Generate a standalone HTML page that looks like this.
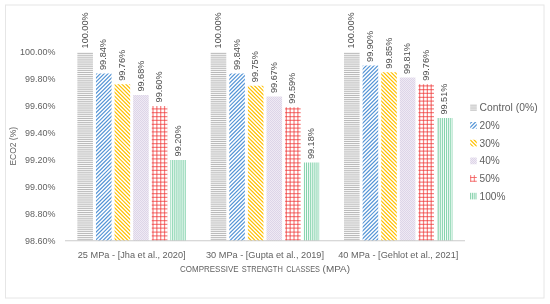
<!DOCTYPE html>
<html><head><meta charset="utf-8"><title>chart</title>
<style>
html,body{margin:0;padding:0;background:#fff;}
body{width:550px;height:304px;overflow:hidden;}
svg{display:block;font-family:"Liberation Sans",sans-serif;}
.ax{font-size:9.6px;fill:#626262;}
.dl{font-size:9.6px;fill:#4d4d4d;}
.lg{font-size:10.1px;fill:#606060;}
</style></head><body>
<svg width="550" height="304" viewBox="0 0 550 304">
<defs>
<pattern id="pp" patternUnits="userSpaceOnUse" width="2" height="2"><rect width="2" height="2" fill="#efeaf4"/><rect x="0" y="0" width="1" height="1" fill="#ddd5e8"/><rect x="1" y="1" width="1" height="1" fill="#ddd5e8"/></pattern>

<clipPath id="cg"><rect x="77.35" y="51.9" width="15.6" height="189"/><rect x="210.68" y="51.9" width="15.6" height="189"/><rect x="344.02" y="51.9" width="15.6" height="189"/><rect x="470.2" y="104.2" width="6.6" height="6.8"/></clipPath>
<clipPath id="cb"><rect x="95.95" y="73.5" width="15.6" height="167.4"/><rect x="229.28" y="73.5" width="15.6" height="167.4"/><rect x="362.62" y="65.4" width="15.6" height="175.5"/><rect x="470.2" y="121.95" width="6.6" height="6.8"/></clipPath>
<clipPath id="cy"><rect x="114.55" y="84.3" width="15.6" height="156.6"/><rect x="247.88" y="85.65" width="15.6" height="155.25"/><rect x="381.22" y="72.15" width="15.6" height="168.75"/><rect x="470.2" y="139.7" width="6.6" height="6.8"/></clipPath>
<clipPath id="cp"><rect x="133.15" y="95.1" width="15.6" height="145.8"/><rect x="266.48" y="96.45" width="15.6" height="144.45"/><rect x="399.82" y="77.55" width="15.6" height="163.35"/><rect x="470.2" y="157.45" width="6.6" height="6.8"/></clipPath>
<clipPath id="cr"><rect x="151.75" y="105.9" width="15.6" height="135"/><rect x="285.08" y="107.25" width="15.6" height="133.65"/><rect x="418.42" y="84.3" width="15.6" height="156.6"/></clipPath>
<clipPath id="cgr"><rect x="170.35" y="159.9" width="15.6" height="81"/><rect x="303.68" y="162.6" width="15.6" height="78.3"/><rect x="437.02" y="118.05" width="15.6" height="122.85"/></clipPath>
</defs>
<rect x="0" y="0" width="550" height="304" fill="#fff"/>
<rect x="5.5" y="5" width="538.5" height="293" fill="none" stroke="#e6e6e6" stroke-width="1"/>
<text class="ax" transform="translate(55.4,243.90) scale(0.935,1)" text-anchor="end">98.60%</text>
<text class="ax" transform="translate(55.4,216.90) scale(0.935,1)" text-anchor="end">98.80%</text>
<text class="ax" transform="translate(55.4,189.90) scale(0.935,1)" text-anchor="end">99.00%</text>
<text class="ax" transform="translate(55.4,162.90) scale(0.935,1)" text-anchor="end">99.20%</text>
<text class="ax" transform="translate(55.4,135.90) scale(0.935,1)" text-anchor="end">99.40%</text>
<text class="ax" transform="translate(55.4,108.90) scale(0.935,1)" text-anchor="end">99.60%</text>
<text class="ax" transform="translate(55.4,81.90) scale(0.935,1)" text-anchor="end">99.80%</text>
<text class="ax" transform="translate(55.4,54.90) scale(0.935,1)" text-anchor="end">100.00%</text>
<path clip-path="url(#cg)" d="M60,49.53H480M60,51.44H480M60,53.36H480M60,55.28H480M60,57.19H480M60,59.11H480M60,61.03H480M60,62.95H480M60,64.86H480M60,66.78H480M60,68.7H480M60,70.61H480M60,72.53H480M60,74.45H480M60,76.36H480M60,78.28H480M60,80.2H480M60,82.12H480M60,84.03H480M60,85.95H480M60,87.87H480M60,89.78H480M60,91.7H480M60,93.62H480M60,95.53H480M60,97.45H480M60,99.37H480M60,101.29H480M60,103.2H480M60,105.12H480M60,107.04H480M60,108.95H480M60,110.87H480M60,112.79H480M60,114.7H480M60,116.62H480M60,118.54H480M60,120.46H480M60,122.37H480M60,124.29H480M60,126.21H480M60,128.12H480M60,130.04H480M60,131.96H480M60,133.87H480M60,135.79H480M60,137.71H480M60,139.63H480M60,141.54H480M60,143.46H480M60,145.38H480M60,147.29H480M60,149.21H480M60,151.13H480M60,153.04H480M60,154.96H480M60,156.88H480M60,158.8H480M60,160.71H480M60,162.63H480M60,164.55H480M60,166.46H480M60,168.38H480M60,170.3H480M60,172.21H480M60,174.13H480M60,176.05H480M60,177.97H480M60,179.88H480M60,181.8H480M60,183.72H480M60,185.63H480M60,187.55H480M60,189.47H480M60,191.38H480M60,193.3H480M60,195.22H480M60,197.14H480M60,199.05H480M60,200.97H480M60,202.89H480M60,204.8H480M60,206.72H480M60,208.64H480M60,210.55H480M60,212.47H480M60,214.39H480M60,216.31H480M60,218.22H480M60,220.14H480M60,222.06H480M60,223.97H480M60,225.89H480M60,227.81H480M60,229.72H480M60,231.64H480M60,233.56H480M60,235.48H480M60,237.39H480M60,239.31H480M60,241.23H480" stroke="#a6a6a6" stroke-width="0.8" fill="none"/>
<path clip-path="url(#cb)" d="M-133.4,242l194,-194M-129.55,242l194,-194M-125.7,242l194,-194M-121.85,242l194,-194M-118,242l194,-194M-114.15,242l194,-194M-110.3,242l194,-194M-106.45,242l194,-194M-102.6,242l194,-194M-98.75,242l194,-194M-94.9,242l194,-194M-91.05,242l194,-194M-87.2,242l194,-194M-83.35,242l194,-194M-79.5,242l194,-194M-75.65,242l194,-194M-71.8,242l194,-194M-67.95,242l194,-194M-64.1,242l194,-194M-60.25,242l194,-194M-56.4,242l194,-194M-52.55,242l194,-194M-48.7,242l194,-194M-44.85,242l194,-194M-41,242l194,-194M-37.15,242l194,-194M-33.3,242l194,-194M-29.45,242l194,-194M-25.6,242l194,-194M-21.75,242l194,-194M-17.9,242l194,-194M-14.05,242l194,-194M-10.2,242l194,-194M-6.35,242l194,-194M-2.5,242l194,-194M1.35,242l194,-194M5.2,242l194,-194M9.05,242l194,-194M12.9,242l194,-194M16.75,242l194,-194M20.6,242l194,-194M24.45,242l194,-194M28.3,242l194,-194M32.15,242l194,-194M36,242l194,-194M39.85,242l194,-194M43.7,242l194,-194M47.55,242l194,-194M51.4,242l194,-194M55.25,242l194,-194M59.1,242l194,-194M62.95,242l194,-194M66.8,242l194,-194M70.65,242l194,-194M74.5,242l194,-194M78.35,242l194,-194M82.2,242l194,-194M86.05,242l194,-194M89.9,242l194,-194M93.75,242l194,-194M97.6,242l194,-194M101.45,242l194,-194M105.3,242l194,-194M109.15,242l194,-194M113,242l194,-194M116.85,242l194,-194M120.7,242l194,-194M124.55,242l194,-194M128.4,242l194,-194M132.25,242l194,-194M136.1,242l194,-194M139.95,242l194,-194M143.8,242l194,-194M147.65,242l194,-194M151.5,242l194,-194M155.35,242l194,-194M159.2,242l194,-194M163.05,242l194,-194M166.9,242l194,-194M170.75,242l194,-194M174.6,242l194,-194M178.45,242l194,-194M182.3,242l194,-194M186.15,242l194,-194M190,242l194,-194M193.85,242l194,-194M197.7,242l194,-194M201.55,242l194,-194M205.4,242l194,-194M209.25,242l194,-194M213.1,242l194,-194M216.95,242l194,-194M220.8,242l194,-194M224.65,242l194,-194M228.5,242l194,-194M232.35,242l194,-194M236.2,242l194,-194M240.05,242l194,-194M243.9,242l194,-194M247.75,242l194,-194M251.6,242l194,-194M255.45,242l194,-194M259.3,242l194,-194M263.15,242l194,-194M267,242l194,-194M270.85,242l194,-194M274.7,242l194,-194M278.55,242l194,-194M282.4,242l194,-194M286.25,242l194,-194M290.1,242l194,-194M293.95,242l194,-194M297.8,242l194,-194M301.65,242l194,-194M305.5,242l194,-194M309.35,242l194,-194M313.2,242l194,-194M317.05,242l194,-194M320.9,242l194,-194M324.75,242l194,-194M328.6,242l194,-194M332.45,242l194,-194M336.3,242l194,-194M340.15,242l194,-194M344,242l194,-194M347.85,242l194,-194M351.7,242l194,-194M355.55,242l194,-194M359.4,242l194,-194M363.25,242l194,-194M367.1,242l194,-194M370.95,242l194,-194M374.8,242l194,-194M378.65,242l194,-194M382.5,242l194,-194M386.35,242l194,-194M390.2,242l194,-194M394.05,242l194,-194M397.9,242l194,-194M401.75,242l194,-194M405.6,242l194,-194M409.45,242l194,-194M413.3,242l194,-194M417.15,242l194,-194M421,242l194,-194M424.85,242l194,-194M428.7,242l194,-194M432.55,242l194,-194M436.4,242l194,-194M440.25,242l194,-194M444.1,242l194,-194M447.95,242l194,-194M451.8,242l194,-194M455.65,242l194,-194M459.5,242l194,-194M463.35,242l194,-194M467.2,242l194,-194M471.05,242l194,-194M474.9,242l194,-194M478.75,242l194,-194" stroke="#5595d6" stroke-width="1.18" fill="none"/>
<path clip-path="url(#cy)" d="M-133.7,48l194,194M-129.85,48l194,194M-126,48l194,194M-122.15,48l194,194M-118.3,48l194,194M-114.45,48l194,194M-110.6,48l194,194M-106.75,48l194,194M-102.9,48l194,194M-99.05,48l194,194M-95.2,48l194,194M-91.35,48l194,194M-87.5,48l194,194M-83.65,48l194,194M-79.8,48l194,194M-75.95,48l194,194M-72.1,48l194,194M-68.25,48l194,194M-64.4,48l194,194M-60.55,48l194,194M-56.7,48l194,194M-52.85,48l194,194M-49,48l194,194M-45.15,48l194,194M-41.3,48l194,194M-37.45,48l194,194M-33.6,48l194,194M-29.75,48l194,194M-25.9,48l194,194M-22.05,48l194,194M-18.2,48l194,194M-14.35,48l194,194M-10.5,48l194,194M-6.65,48l194,194M-2.8,48l194,194M1.05,48l194,194M4.9,48l194,194M8.75,48l194,194M12.6,48l194,194M16.45,48l194,194M20.3,48l194,194M24.15,48l194,194M28,48l194,194M31.85,48l194,194M35.7,48l194,194M39.55,48l194,194M43.4,48l194,194M47.25,48l194,194M51.1,48l194,194M54.95,48l194,194M58.8,48l194,194M62.65,48l194,194M66.5,48l194,194M70.35,48l194,194M74.2,48l194,194M78.05,48l194,194M81.9,48l194,194M85.75,48l194,194M89.6,48l194,194M93.45,48l194,194M97.3,48l194,194M101.15,48l194,194M105,48l194,194M108.85,48l194,194M112.7,48l194,194M116.55,48l194,194M120.4,48l194,194M124.25,48l194,194M128.1,48l194,194M131.95,48l194,194M135.8,48l194,194M139.65,48l194,194M143.5,48l194,194M147.35,48l194,194M151.2,48l194,194M155.05,48l194,194M158.9,48l194,194M162.75,48l194,194M166.6,48l194,194M170.45,48l194,194M174.3,48l194,194M178.15,48l194,194M182,48l194,194M185.85,48l194,194M189.7,48l194,194M193.55,48l194,194M197.4,48l194,194M201.25,48l194,194M205.1,48l194,194M208.95,48l194,194M212.8,48l194,194M216.65,48l194,194M220.5,48l194,194M224.35,48l194,194M228.2,48l194,194M232.05,48l194,194M235.9,48l194,194M239.75,48l194,194M243.6,48l194,194M247.45,48l194,194M251.3,48l194,194M255.15,48l194,194M259,48l194,194M262.85,48l194,194M266.7,48l194,194M270.55,48l194,194M274.4,48l194,194M278.25,48l194,194M282.1,48l194,194M285.95,48l194,194M289.8,48l194,194M293.65,48l194,194M297.5,48l194,194M301.35,48l194,194M305.2,48l194,194M309.05,48l194,194M312.9,48l194,194M316.75,48l194,194M320.6,48l194,194M324.45,48l194,194M328.3,48l194,194M332.15,48l194,194M336,48l194,194M339.85,48l194,194M343.7,48l194,194M347.55,48l194,194M351.4,48l194,194M355.25,48l194,194M359.1,48l194,194M362.95,48l194,194M366.8,48l194,194M370.65,48l194,194M374.5,48l194,194M378.35,48l194,194M382.2,48l194,194M386.05,48l194,194M389.9,48l194,194M393.75,48l194,194M397.6,48l194,194M401.45,48l194,194M405.3,48l194,194M409.15,48l194,194M413,48l194,194M416.85,48l194,194M420.7,48l194,194M424.55,48l194,194M428.4,48l194,194M432.25,48l194,194M436.1,48l194,194M439.95,48l194,194M443.8,48l194,194M447.65,48l194,194M451.5,48l194,194M455.35,48l194,194M459.2,48l194,194M463.05,48l194,194M466.9,48l194,194M470.75,48l194,194M474.6,48l194,194M478.45,48l194,194" stroke="#ffc000" stroke-width="1.2" fill="none"/>
<rect clip-path="url(#cp)" x="60" y="48" width="420" height="194" fill="url(#pp)"/>
<g clip-path="url(#cr)" stroke="#ee2e2e" stroke-width="1.25" stroke-opacity="0.6" fill="none"><path d="M153,48V242M156.85,48V242M160.7,48V242M164.55,48V242M168.4,48V242M286.33,48V242M290.18,48V242M294.03,48V242M297.88,48V242M301.73,48V242M419.67,48V242M423.52,48V242M427.37,48V242M431.22,48V242M435.07,48V242"/><path d="M150.75,70.35h18M284.08,70.35h18M417.42,70.35h18M150.75,74.2h18M284.08,74.2h18M417.42,74.2h18M150.75,78.05h18M284.08,78.05h18M417.42,78.05h18M150.75,81.9h18M284.08,81.9h18M417.42,81.9h18M150.75,85.75h18M284.08,85.75h18M417.42,85.75h18M150.75,89.6h18M284.08,89.6h18M417.42,89.6h18M150.75,93.45h18M284.08,93.45h18M417.42,93.45h18M150.75,97.3h18M284.08,97.3h18M417.42,97.3h18M150.75,101.15h18M284.08,101.15h18M417.42,101.15h18M150.75,105h18M284.08,105h18M417.42,105h18M150.75,108.85h18M284.08,108.85h18M417.42,108.85h18M150.75,112.7h18M284.08,112.7h18M417.42,112.7h18M150.75,116.55h18M284.08,116.55h18M417.42,116.55h18M150.75,120.4h18M284.08,120.4h18M417.42,120.4h18M150.75,124.25h18M284.08,124.25h18M417.42,124.25h18M150.75,128.1h18M284.08,128.1h18M417.42,128.1h18M150.75,131.95h18M284.08,131.95h18M417.42,131.95h18M150.75,135.8h18M284.08,135.8h18M417.42,135.8h18M150.75,139.65h18M284.08,139.65h18M417.42,139.65h18M150.75,143.5h18M284.08,143.5h18M417.42,143.5h18M150.75,147.35h18M284.08,147.35h18M417.42,147.35h18M150.75,151.2h18M284.08,151.2h18M417.42,151.2h18M150.75,155.05h18M284.08,155.05h18M417.42,155.05h18M150.75,158.9h18M284.08,158.9h18M417.42,158.9h18M150.75,162.75h18M284.08,162.75h18M417.42,162.75h18M150.75,166.6h18M284.08,166.6h18M417.42,166.6h18M150.75,170.45h18M284.08,170.45h18M417.42,170.45h18M150.75,174.3h18M284.08,174.3h18M417.42,174.3h18M150.75,178.15h18M284.08,178.15h18M417.42,178.15h18M150.75,182h18M284.08,182h18M417.42,182h18M150.75,185.85h18M284.08,185.85h18M417.42,185.85h18M150.75,189.7h18M284.08,189.7h18M417.42,189.7h18M150.75,193.55h18M284.08,193.55h18M417.42,193.55h18M150.75,197.4h18M284.08,197.4h18M417.42,197.4h18M150.75,201.25h18M284.08,201.25h18M417.42,201.25h18M150.75,205.1h18M284.08,205.1h18M417.42,205.1h18M150.75,208.95h18M284.08,208.95h18M417.42,208.95h18M150.75,212.8h18M284.08,212.8h18M417.42,212.8h18M150.75,216.65h18M284.08,216.65h18M417.42,216.65h18M150.75,220.5h18M284.08,220.5h18M417.42,220.5h18M150.75,224.35h18M284.08,224.35h18M417.42,224.35h18M150.75,228.2h18M284.08,228.2h18M417.42,228.2h18M150.75,232.05h18M284.08,232.05h18M417.42,232.05h18M150.75,235.9h18M284.08,235.9h18M417.42,235.9h18M150.75,239.75h18M284.08,239.75h18M417.42,239.75h18"/></g>
<path clip-path="url(#cgr)" d="M59.21,48V242M61.13,48V242M63.05,48V242M64.97,48V242M66.88,48V242M68.8,48V242M70.72,48V242M72.63,48V242M74.55,48V242M76.47,48V242M78.38,48V242M80.3,48V242M82.22,48V242M84.14,48V242M86.05,48V242M87.97,48V242M89.89,48V242M91.8,48V242M93.72,48V242M95.64,48V242M97.55,48V242M99.47,48V242M101.39,48V242M103.31,48V242M105.22,48V242M107.14,48V242M109.06,48V242M110.97,48V242M112.89,48V242M114.81,48V242M116.72,48V242M118.64,48V242M120.56,48V242M122.48,48V242M124.39,48V242M126.31,48V242M128.23,48V242M130.14,48V242M132.06,48V242M133.98,48V242M135.89,48V242M137.81,48V242M139.73,48V242M141.65,48V242M143.56,48V242M145.48,48V242M147.4,48V242M149.31,48V242M151.23,48V242M153.15,48V242M155.06,48V242M156.98,48V242M158.9,48V242M160.82,48V242M162.73,48V242M164.65,48V242M166.57,48V242M168.48,48V242M170.4,48V242M172.32,48V242M174.23,48V242M176.15,48V242M178.07,48V242M179.99,48V242M181.9,48V242M183.82,48V242M185.74,48V242M187.65,48V242M189.57,48V242M191.49,48V242M193.4,48V242M195.32,48V242M197.24,48V242M199.16,48V242M201.07,48V242M202.99,48V242M204.91,48V242M206.82,48V242M208.74,48V242M210.66,48V242M212.57,48V242M214.49,48V242M216.41,48V242M218.33,48V242M220.24,48V242M222.16,48V242M224.08,48V242M225.99,48V242M227.91,48V242M229.83,48V242M231.74,48V242M233.66,48V242M235.58,48V242M237.5,48V242M239.41,48V242M241.33,48V242M243.25,48V242M245.16,48V242M247.08,48V242M249,48V242M250.91,48V242M252.83,48V242M254.75,48V242M256.67,48V242M258.58,48V242M260.5,48V242M262.42,48V242M264.33,48V242M266.25,48V242M268.17,48V242M270.08,48V242M272,48V242M273.92,48V242M275.83,48V242M277.75,48V242M279.67,48V242M281.59,48V242M283.5,48V242M285.42,48V242M287.34,48V242M289.25,48V242M291.17,48V242M293.09,48V242M295,48V242M296.92,48V242M298.84,48V242M300.76,48V242M302.67,48V242M304.59,48V242M306.51,48V242M308.42,48V242M310.34,48V242M312.26,48V242M314.17,48V242M316.09,48V242M318.01,48V242M319.93,48V242M321.84,48V242M323.76,48V242M325.68,48V242M327.59,48V242M329.51,48V242M331.43,48V242M333.34,48V242M335.26,48V242M337.18,48V242M339.1,48V242M341.01,48V242M342.93,48V242M344.85,48V242M346.76,48V242M348.68,48V242M350.6,48V242M352.51,48V242M354.43,48V242M356.35,48V242M358.27,48V242M360.18,48V242M362.1,48V242M364.02,48V242M365.93,48V242M367.85,48V242M369.77,48V242M371.68,48V242M373.6,48V242M375.52,48V242M377.44,48V242M379.35,48V242M381.27,48V242M383.19,48V242M385.1,48V242M387.02,48V242M388.94,48V242M390.85,48V242M392.77,48V242M394.69,48V242M396.61,48V242M398.52,48V242M400.44,48V242M402.36,48V242M404.27,48V242M406.19,48V242M408.11,48V242M410.02,48V242M411.94,48V242M413.86,48V242M415.78,48V242M417.69,48V242M419.61,48V242M421.53,48V242M423.44,48V242M425.36,48V242M427.28,48V242M429.19,48V242M431.11,48V242M433.03,48V242M434.95,48V242M436.86,48V242M438.78,48V242M440.7,48V242M442.61,48V242M444.53,48V242M446.45,48V242M448.36,48V242M450.28,48V242M452.2,48V242M454.12,48V242M456.03,48V242M457.95,48V242M459.87,48V242M461.78,48V242M463.7,48V242M465.62,48V242M467.53,48V242M469.45,48V242M471.37,48V242M473.29,48V242M475.2,48V242M477.12,48V242M479.04,48V242" stroke="#74cda2" stroke-width="0.9" fill="none"/>
<text class="dl" transform="translate(87.75,48.40) rotate(-90) scale(0.95,1)">100.00%</text>
<text class="dl" transform="translate(106.35,70.00) rotate(-90) scale(0.95,1)">99.84%</text>
<text class="dl" transform="translate(124.95,80.80) rotate(-90) scale(0.95,1)">99.76%</text>
<text class="dl" transform="translate(143.55,91.60) rotate(-90) scale(0.95,1)">99.68%</text>
<text class="dl" transform="translate(162.15,102.40) rotate(-90) scale(0.95,1)">99.60%</text>
<text class="dl" transform="translate(180.75,156.40) rotate(-90) scale(0.95,1)">99.20%</text>
<text class="dl" transform="translate(221.08,48.40) rotate(-90) scale(0.95,1)">100.00%</text>
<text class="dl" transform="translate(239.68,70.00) rotate(-90) scale(0.95,1)">99.84%</text>
<text class="dl" transform="translate(258.28,82.15) rotate(-90) scale(0.95,1)">99.75%</text>
<text class="dl" transform="translate(276.88,92.95) rotate(-90) scale(0.95,1)">99.67%</text>
<text class="dl" transform="translate(295.48,103.75) rotate(-90) scale(0.95,1)">99.59%</text>
<text class="dl" transform="translate(314.08,159.10) rotate(-90) scale(0.95,1)">99.18%</text>
<text class="dl" transform="translate(354.42,48.40) rotate(-90) scale(0.95,1)">100.00%</text>
<text class="dl" transform="translate(373.02,61.90) rotate(-90) scale(0.95,1)">99.90%</text>
<text class="dl" transform="translate(391.62,68.65) rotate(-90) scale(0.95,1)">99.85%</text>
<text class="dl" transform="translate(410.22,74.05) rotate(-90) scale(0.95,1)">99.81%</text>
<text class="dl" transform="translate(428.82,80.80) rotate(-90) scale(0.95,1)">99.76%</text>
<text class="dl" transform="translate(447.42,114.55) rotate(-90) scale(0.95,1)">99.51%</text>
<line x1="65.0" y1="240.8" x2="465.0" y2="240.8" stroke="#cbcbcb" stroke-width="1.1"/>
<text class="ax" transform="translate(131.7,257.7) scale(0.96,1)" text-anchor="middle">25 MPa - [Jha et al., 2020]</text>
<text class="ax" transform="translate(265.0,257.7) scale(0.96,1)" text-anchor="middle">30 MPa - [Gupta et al., 2019]</text>
<text class="ax" transform="translate(398.3,257.7) scale(0.96,1)" text-anchor="middle">40 MPa - [Gehlot et al., 2021]</text>
<text class="ax" style="font-size:9px" x="180.0" y="272.3" textLength="58.6" lengthAdjust="spacingAndGlyphs">COMPRESSIVE</text>
<text class="ax" style="font-size:9px" x="241.8" y="272.3" textLength="41.0" lengthAdjust="spacingAndGlyphs">STRENGTH</text>
<text class="ax" style="font-size:9px" x="286.2" y="272.3" textLength="33.8" lengthAdjust="spacingAndGlyphs">CLASSES</text>
<text class="ax" style="font-size:9px" x="322.6" y="272.3" textLength="27.4" lengthAdjust="spacingAndGlyphs">(MPA)</text>
<text class="ax" style="font-size:9px" transform="translate(16,146.3) rotate(-90)" text-anchor="middle" textLength="38.6" lengthAdjust="spacingAndGlyphs">ECO2 (%)</text>
<path d="M470.7,175.1V181.7M474.3,175.1V181.7M470.2,177.5H476.8M470.2,181.25H476.8" stroke="#f25a5a" stroke-width="0.85" fill="none"/>
<path d="M470.6,192.8V199.4M472.4,192.8V199.4M474.2,192.8V199.4M476,192.8V199.4" stroke="#6cc79a" stroke-width="0.85" fill="none"/>
<text class="lg" x="479.6" y="111.10" textLength="58" lengthAdjust="spacingAndGlyphs">Control (0%)</text>
<text class="lg" x="479.6" y="128.85">20%</text>
<text class="lg" x="479.6" y="146.60">30%</text>
<text class="lg" x="479.6" y="164.35">40%</text>
<text class="lg" x="479.6" y="182.10">50%</text>
<text class="lg" x="479.6" y="199.85">100%</text>
</svg></body></html>
